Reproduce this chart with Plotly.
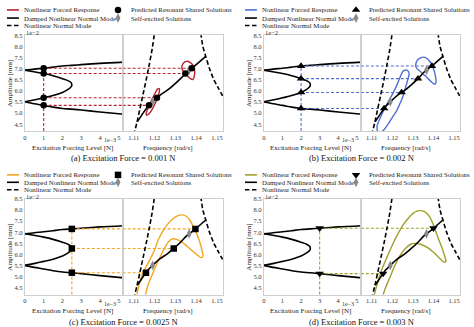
import numpy as np
import plotly.graph_objects as go

W, H = 474, 327

# ---------------------------------------------------------------------------
# Data (forcing level in 1e-3 N, amplitude in 1e-2 mm, frequency in rad/s)
# ---------------------------------------------------------------------------
# Damped nonlinear normal mode in the forcing-level / amplitude plane
dnnm_upper_F = [0.0, 0.5, 1.0, 1.5, 2.0, 2.5, 3.0, 4.0, 5.4]
dnnm_upper_A = [6.93, 6.98, 7.02, 7.07, 7.12, 7.15, 7.18, 7.24, 7.30]
dnnm_inner_F = [0.0, 0.55, 1.0, 1.5, 2.0, 2.32, 2.47, 2.5, 2.46, 2.32, 2.0, 1.55, 1.0, 0.55, 0.0]
dnnm_inner_A = [6.93, 6.85, 6.78, 6.68, 6.55, 6.45, 6.36, 6.27, 6.18, 6.08, 5.93, 5.80, 5.69, 5.60, 5.51]
dnnm_lower_F = [0.0, 0.5, 1.0, 1.5, 2.0, 2.5, 3.0, 4.0, 5.4]
dnnm_lower_A = [5.51, 5.42, 5.35, 5.27, 5.21, 5.18, 5.14, 5.05, 4.94]

# Damped nonlinear normal mode in the frequency / amplitude plane
dnnm_freq = [1.1118, 1.1145, 1.1168, 1.1195, 1.1225, 1.1260, 1.1290, 1.1325, 1.1355, 1.1390, 1.1446]
dnnm_amp = [4.62, 5.00, 5.30, 5.55, 5.80, 6.02, 6.25, 6.55, 6.85, 7.10, 7.55]

# Undamped nonlinear normal mode (two branches)
nnm_left_freq = [1.1100, 1.1116, 1.1130, 1.1145, 1.1160, 1.1175, 1.1188, 1.1200]
nnm_left_amp = [4.00, 4.60, 5.20, 5.85, 6.50, 7.20, 7.85, 8.60]
nnm_right_freq = [1.1422, 1.1432, 1.1446, 1.1462, 1.1485, 1.1508, 1.1540]
nnm_right_amp = [8.60, 8.00, 7.55, 7.05, 6.50, 6.10, 5.55]

# Self-excited solutions sit at the zero-forcing amplitudes
self_excited_amp = [5.51, 6.93]

# Forcing levels and resonant shared amplitudes
force_levels = [1.0, 2.0, 2.5, 3.0]
shared_amp = [
    [7.02, 6.78, 5.69, 5.35],
    [7.12, 6.55, 5.93, 5.21],
    [7.15, 6.27, 5.18],
    [7.18, 5.14],
]

# Nonlinear forced responses (each a list of closed / open branches)
frc_a = [
    ([1.1162, 1.1178, 1.1196, 1.1212, 1.1222, 1.1223, 1.1214, 1.1200, 1.1184, 1.1168, 1.1160, 1.1162],
     [4.90, 5.02, 5.30, 5.62, 5.92, 6.10, 6.08, 5.85, 5.55, 5.20, 4.98, 4.90]),
    ([1.1352, 1.1372, 1.1388, 1.1393, 1.1391, 1.1385, 1.1372, 1.1352, 1.1336, 1.1331, 1.1336, 1.1352],
     [7.33, 7.27, 7.10, 6.90, 6.68, 6.52, 6.55, 6.72, 6.90, 7.05, 7.22, 7.33]),
]
frc_b = [
    ([1.1135, 1.1126, 1.1145, 1.1166, 1.1186, 1.1205, 1.1222, 1.1237, 1.1253, 1.1274, 1.1282,
      1.1277, 1.1269, 1.1260, 1.1250, 1.1236, 1.1222, 1.1200, 1.1181, 1.1160, 1.1135],
     [4.10, 4.37, 4.85, 5.26, 5.60, 5.92, 6.25, 6.59, 6.89, 6.92, 6.77,
      6.55, 6.30, 6.00, 5.70, 5.40, 5.11, 4.80, 4.52, 4.25, 4.10]),
    ([1.1314, 1.1322, 1.1340, 1.1362, 1.1385, 1.1400, 1.1410, 1.1412, 1.1405, 1.1385, 1.1360, 1.1335, 1.1316, 1.1314],
     [7.18, 7.38, 7.50, 7.50, 7.30, 7.00, 6.65, 6.38, 6.30, 6.45, 6.68, 6.88, 7.05, 7.18]),
]
frc_c = [
    ([1.1112, 1.1125, 1.1138, 1.1158, 1.1178, 1.1200, 1.1218, 1.1240, 1.1266, 1.1290, 1.1310,
      1.1333, 1.1352, 1.1369, 1.1385, 1.1401, 1.1415, 1.1425, 1.1432, 1.1431, 1.1422, 1.1405,
      1.1380, 1.1355, 1.1330, 1.1305, 1.1285, 1.1268, 1.1250, 1.1230, 1.1205, 1.1185, 1.1168, 1.1152],
     [4.00, 4.60, 5.03, 5.42, 5.77, 6.20, 6.66, 7.05, 7.40, 7.62, 7.74,
      7.78, 7.72, 7.55, 7.28, 6.96, 6.62, 6.29, 6.00, 5.88, 5.86, 5.98,
      6.18, 6.38, 6.57, 6.68, 6.70, 6.58, 6.32, 5.95, 5.45, 5.00, 4.60, 4.00]),
]
frc_d = [
    ([1.1108, 1.1128, 1.1150, 1.1175, 1.1198, 1.1225, 1.1253, 1.1280, 1.1301, 1.1320, 1.1341,
      1.1362, 1.1381, 1.1402, 1.1420, 1.1438, 1.1452, 1.1460, 1.1458, 1.1448, 1.1425, 1.1400,
      1.1370, 1.1340, 1.1310, 1.1290, 1.1265, 1.1240, 1.1218, 1.1198, 1.1180, 1.1165, 1.1150],
     [4.00, 4.70, 5.33, 5.88, 6.37, 6.88, 7.33, 7.65, 7.85, 7.95, 7.97,
      7.90, 7.70, 7.28, 6.81, 6.38, 6.00, 5.72, 5.66, 5.68, 5.88, 6.10,
      6.32, 6.45, 6.50, 6.46, 6.28, 5.98, 5.60, 5.18, 4.78, 4.44, 4.00]),
]

captions = [
    "(a) Excitation Force = 0.001 N",
    "(b) Excitation Force = 0.002 N",
    "(c) Excitation Force = 0.0025 N",
    "(d) Excitation Force = 0.003 N",
]
force_ticks = [0, 1, 2, 3, 4, 5]
freq_ticks = [1.11, 1.12, 1.13, 1.14, 1.15]
amp_ticks = [4.5, 5.0, 5.5, 6.0, 6.5, 7.0, 7.5, 8.0, 8.5]

# ---------------------------------------------------------------------------
# Styling and layout
# ---------------------------------------------------------------------------
FONT = "Liberation Serif"
colors = ["#b8222c", "#4f6fd2", "#f2a51e", "#a0a02a"]
symbols = ["circle", "triangle-up", "square", "triangle-down"]
frcs = [frc_a, frc_b, frc_c, frc_d]
SPINE = "#cfcfcf"
F_RANGE = [0.0, 5.25]
W_RANGE = [1.1051, 1.1529]
A_RANGE = [4.2, 8.5]

# pixel frames of each panel: (left, divider, right, top, bottom)
frames = [
    (23, 122, 222, 31.7, 128.5),
    (263, 361, 460, 31.7, 128.5),
    (23, 122, 222, 197.3, 294.1),
    (263, 361, 460, 197.3, 294.1),
]
legend_rows = [(6.0, 14.2, 21.8), (6.0, 14.2, 21.8), (173.0, 180.5, 188.0), (173.0, 180.5, 188.0)]
legend_dx = [0, 239, 0, 239]


def px(x):
    return x / W


def py(y):
    return 1 - y / H


fig = go.Figure()
layout = {}
annotations = []


def axname(i, kind):
    return kind if i == 1 else f"{kind}{i}"


dnnm_line = dict(color="black", width=1.6)
nnm_line = dict(color="black", width=1.6, dash="4.5px,2.5px")

for p in range(4):
    L, M, R, T, B = frames[p]
    il, ir = 2 * p + 1, 2 * p + 2
    xl, yl, xr, yr = axname(il, "x"), axname(il, "y"), axname(ir, "x"), axname(ir, "y")
    col = colors[p]
    Fp = force_levels[p]
    amps = shared_amp[p]
    guide = dict(color=col, width=1.1, dash="3px,2px")

    common = dict(showline=True, mirror=True, linecolor=SPINE, linewidth=1,
                  showgrid=False, zeroline=False, ticks="",
                  tickfont=dict(family=FONT, size=6.5, color="#333"), fixedrange=True)
    layout["xaxis" + ("" if il == 1 else str(il))] = dict(
        common, domain=[px(L), px(M)], range=F_RANGE, anchor=yl,
        tickvals=force_ticks, ticktext=[str(t) for t in force_ticks])
    layout["yaxis" + ("" if il == 1 else str(il))] = dict(
        common, domain=[py(B), py(T)], range=A_RANGE, anchor=xl,
        tickvals=amp_ticks, ticktext=[f"{t:.1f}" for t in amp_ticks])
    layout["xaxis" + str(ir)] = dict(
        common, domain=[px(M), px(R)], range=W_RANGE, anchor=yr,
        tickvals=freq_ticks, ticktext=[f"{t:.2f}" for t in freq_ticks])
    layout["yaxis" + str(ir)] = dict(
        common, domain=[py(B), py(T)], range=A_RANGE, anchor=xr, showticklabels=False)

    # --- left: forcing level vs amplitude ---
    for Fs, As in [(dnnm_upper_F, dnnm_upper_A), (dnnm_inner_F, dnnm_inner_A), (dnnm_lower_F, dnnm_lower_A)]:
        fig.add_trace(go.Scatter(x=Fs, y=As, mode="lines", line=dict(dnnm_line, shape="spline", smoothing=0.8),
                                 xaxis=xl, yaxis=yl, showlegend=False, hoverinfo="skip"))
    # vertical guide up to the highest shared amplitude
    fig.add_trace(go.Scatter(x=[Fp, Fp], y=[A_RANGE[0], max(amps)], mode="lines", line=guide,
                             xaxis=xl, yaxis=yl, showlegend=False, hoverinfo="skip"))
    # horizontal guides from the forcing level to the right edge
    for a in amps:
        fig.add_trace(go.Scatter(x=[Fp, F_RANGE[1] + 1], y=[a, a], mode="lines", line=guide,
                                 xaxis=xl, yaxis=yl, showlegend=False, hoverinfo="skip"))

    # --- right: frequency vs amplitude ---
    shared_freq = np.interp(amps, dnnm_amp, dnnm_freq)
    for a, w in zip(amps, shared_freq):
        fig.add_trace(go.Scatter(x=[W_RANGE[0] - 0.01, w], y=[a, a], mode="lines", line=guide,
                                 xaxis=xr, yaxis=yr, showlegend=False, hoverinfo="skip"))
    for fx, fa in frcs[p]:
        fig.add_trace(go.Scatter(x=fx, y=fa, mode="lines",
                                 line=dict(color=col, width=1.4, shape="spline", smoothing=0.9),
                                 xaxis=xr, yaxis=yr, showlegend=False, hoverinfo="skip"))
    fig.add_trace(go.Scatter(x=nnm_left_freq, y=nnm_left_amp, mode="lines",
                             line=dict(nnm_line, shape="spline", smoothing=0.6),
                             xaxis=xr, yaxis=yr, showlegend=False, hoverinfo="skip"))
    fig.add_trace(go.Scatter(x=nnm_right_freq, y=nnm_right_amp, mode="lines",
                             line=dict(nnm_line, shape="spline", smoothing=0.6),
                             xaxis=xr, yaxis=yr, showlegend=False, hoverinfo="skip"))
    fig.add_trace(go.Scatter(x=dnnm_freq, y=dnnm_amp, mode="lines",
                             line=dict(dnnm_line, shape="spline", smoothing=0.6),
                             xaxis=xr, yaxis=yr, showlegend=False, hoverinfo="skip"))
    se_freq = np.interp(self_excited_amp, dnnm_amp, dnnm_freq)
    fig.add_trace(go.Scatter(x=se_freq, y=self_excited_amp, mode="markers",
                             marker=dict(symbol="diamond-tall", size=7, color="#8a8a8a"),
                             xaxis=xr, yaxis=yr, showlegend=False, hoverinfo="skip"))
    msize = 6.5 if symbols[p] in ("circle", "square") else 7.5
    fig.add_trace(go.Scatter(x=[Fp] * len(amps), y=amps, mode="markers",
                             marker=dict(symbol=symbols[p], size=msize, color="black"),
                             xaxis=xl, yaxis=yl, showlegend=False, hoverinfo="skip", cliponaxis=False))
    fig.add_trace(go.Scatter(x=shared_freq, y=amps, mode="markers",
                             marker=dict(symbol=symbols[p], size=msize, color="black"),
                             xaxis=xr, yaxis=yr, showlegend=False, hoverinfo="skip"))

    # --- texts ---
    tfont = dict(family=FONT, size=7, color="#222")
    annotations.append(dict(x=px((L + M) / 2 - 2), y=py(T + 114), xref="paper", yref="paper",
                            text="Excitation Forcing Level [N]", showarrow=False, font=tfont,
                            xanchor="center", yanchor="middle"))
    annotations.append(dict(x=px((M + R) / 2 - 5), y=py(T + 114), xref="paper", yref="paper",
                            text="Frequency [rad/s]", showarrow=False, font=tfont,
                            xanchor="center", yanchor="middle"))
    annotations.append(dict(x=px(M), y=py(T + 124.5), xref="paper", yref="paper",
                            text=captions[p], showarrow=False,
                            font=dict(family=FONT, size=8.5, color="#111"),
                            xanchor="center", yanchor="middle"))
    annotations.append(dict(x=px(L - 15), y=py((T + B) / 2), xref="paper", yref="paper",
                            text="Amplitude [mm]", textangle=-90, showarrow=False, font=tfont,
                            xanchor="center", yanchor="middle"))
    annotations.append(dict(x=px(L - 1), y=py(T - 2.5), xref="paper", yref="paper",
                            text="1e\u22122", showarrow=False,
                            font=dict(family=FONT, size=6.5, color="#333"),
                            xanchor="left", yanchor="middle"))
    annotations.append(dict(x=px(M - 14), y=py(B + 9.3), xref="paper", yref="paper",
                            text="1e\u22123", showarrow=False,
                            font=dict(family=FONT, size=6, color="#333"),
                            xanchor="center", yanchor="middle"))

    # --- legend block (drawn on a full-page overlay axis in pixel units) ---
    dx = legend_dx[p]
    r1, r2, r3 = legend_rows[p]
    lfont = dict(family=FONT, size=6.8, color="#222")
    for (yy, style) in [(r1, dict(color=col, width=1.6)), (r2, dnnm_line), (r3, nnm_line)]:
        fig.add_trace(go.Scatter(x=[5 + dx, 17 + dx], y=[yy, yy], mode="lines", line=style,
                                 xaxis="x9", yaxis="y9", showlegend=False, hoverinfo="skip"))
    for yy, txt in [(r1, "Nonlinear Forced Response"), (r2, "Damped Nonlinear Normal Mode"),
                    (r3, "Nonlinear Normal Mode")]:
        annotations.append(dict(x=px(20 + dx), y=py(yy), xref="paper", yref="paper", text=txt,
                                showarrow=False, font=lfont, xanchor="left", yanchor="middle"))
    fig.add_trace(go.Scatter(x=[116.5 + dx], y=[r1], mode="markers",
                             marker=dict(symbol=symbols[p], size=msize, color="black"),
                             xaxis="x9", yaxis="y9", showlegend=False, hoverinfo="skip"))
    fig.add_trace(go.Scatter(x=[116.5 + dx], y=[r2], mode="markers",
                             marker=dict(symbol="diamond-tall", size=7, color="#8a8a8a"),
                             xaxis="x9", yaxis="y9", showlegend=False, hoverinfo="skip"))
    for yy, txt in [(r1, "Predicted Resonant Shared Solutions"), (r2, "Self-excited Solutions")]:
        annotations.append(dict(x=px(128 + dx), y=py(yy), xref="paper", yref="paper", text=txt,
                                showarrow=False, font=lfont, xanchor="left", yanchor="middle"))

layout["xaxis9"] = dict(domain=[0, 1], range=[0, W], visible=False, fixedrange=True, anchor="y9")
layout["yaxis9"] = dict(domain=[0, 1], range=[H, 0], visible=False, fixedrange=True, anchor="x9")

fig.update_layout(
    width=W, height=H,
    margin=dict(l=0, r=0, t=0, b=0),
    paper_bgcolor="white", plot_bgcolor="rgba(0,0,0,0)",
    showlegend=False,
    annotations=annotations,
    **layout,
)
fig.write_html("out.html")
